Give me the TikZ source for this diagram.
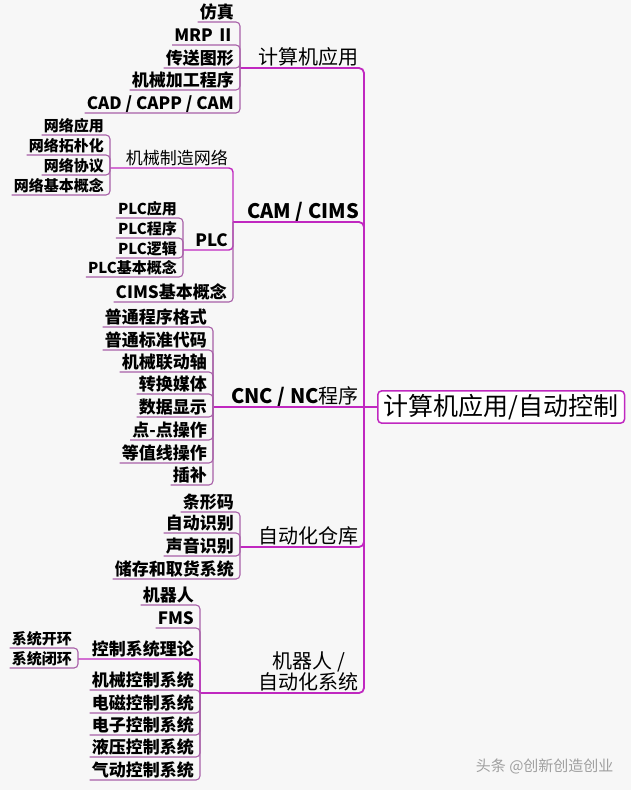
\documentclass[tikz,border=0pt]{standalone}
\usepackage{fontspec}
\setmainfont{Noto Sans CJK SC}
\definecolor{trunkline}{RGB}{192,40,192}
\definecolor{twigline}{RGB}{168,96,168}
\definecolor{paper}{RGB}{247,247,247}

\begin{document}
\begin{tikzpicture}[x=1pt, y=-1pt,
  topic/.style={anchor=south east, inner xsep=1pt, inner ysep=3pt, text depth=0pt,
    font=\fontsize{20}{21}\selectfont},
  leaf/.style={anchor=south east, inner xsep=2pt, inner ysep=3pt, text depth=0pt,
    font=\fontsize{17}{19}\selectfont\bfseries},
  smallleaf/.style={leaf, font=\fontsize{15}{17}\selectfont\bfseries},
  trunk/.style={draw=trunkline, line width=1.8pt, rounded corners=5pt},
  branch/.style={draw=trunkline, line width=1.4pt, rounded corners=4pt},
  twig/.style={draw=twigline, line width=1.1pt, rounded corners=4pt}]

  % Page
  \fill[paper] (0,0) rectangle (631,790);
  \useasboundingbox (0,0) rectangle (631,790);

  % Central topic
  \node[draw=trunkline, line width=1.5pt, rounded corners=4pt, fill=white, anchor=west,
    inner xsep=6pt, minimum height=30pt, font=\fontsize{25}{27}\selectfont]
    (root) at (377,407) {计算机应用/自动控制};
  \coordinate (hub) at (364,407);
  \draw[trunk] (root.west) -- (hub);

  % Computer applications
  \coordinate (jApp) at (240,68);
  \node[topic] (app) at (360,68) {计算机应用};
  \draw[trunk] (hub) |- (jApp);
  \node[leaf] (sim) at (236,22) {仿真};
  \node[leaf] (mrp) at (236,45) {MRP Ⅱ};
  \node[leaf] (transfer) at (236,68) {传送图形};
  \node[leaf] (machining) at (236,90) {机械加工程序};
  \node[leaf] (cad) at (236,113) {CAD / CAPP / CAM};
  \foreach \n in {sim, mrp, transfer, machining, cad}
    \draw[twig] (jApp) |- (\n.south west);

  % CAM / CIMS
  \coordinate (jCam) at (233,222);
  \node[topic, font=\fontsize{20}{21}\selectfont\bfseries] (cam) at (360,222) {CAM / CIMS};
  \draw[trunk] (hub) |- (jCam);

  % Manufacturing network
  \coordinate (jNet) at (110,168);
  \node[topic, font=\fontsize{17}{19}\selectfont] (net) at (229,168) {机械制造网络};
  \draw[branch] (jCam) |- (jNet);
  \node[smallleaf] (netuse) at (106,135) {网络应用};
  \node[smallleaf] (nettopo) at (106,155) {网络拓朴化};
  \node[smallleaf] (netproto) at (106,175) {网络协议};
  \node[smallleaf] (netbase) at (106,195) {网络基本概念};
  \foreach \n in {netuse, nettopo, netproto, netbase}
    \draw[twig] (jNet) |- (\n.south west);

  % PLC
  \coordinate (jPlc) at (183,250);
  \node[topic, font=\fontsize{17}{19}\selectfont\bfseries] (plc) at (229,250) {PLC};
  \draw[branch] (jCam) |- (jPlc);
  \node[smallleaf] (plcuse) at (179,218) {PLC应用};
  \node[smallleaf] (plcprog) at (179,238) {PLC程序};
  \node[smallleaf] (plclogic) at (179,258) {PLC逻辑};
  \node[smallleaf] (plcbase) at (179,277) {PLC基本概念};
  \foreach \n in {plcuse, plcprog, plclogic, plcbase}
    \draw[twig] (jPlc) |- (\n.south west);

  \node[leaf] (cimsbase) at (229,302) {CIMS基本概念};
  \draw[twig] (jCam) |- (cimsbase.south west);

  % CNC / NC programs
  \coordinate (jCnc) at (213,407);
  \node[topic] (cnc) at (360,407) {{\bfseries CNC / NC}程序};
  \draw[trunk] (hub) -- (jCnc);
  \node[leaf] (format) at (209,327) {普通程序格式};
  \node[leaf] (code) at (209,350) {普通标准代码};
  \node[leaf] (axis) at (209,372) {机械联动轴};
  \node[leaf] (media) at (209,394) {转换媒体};
  \node[leaf] (display) at (209,417) {数据显示};
  \node[leaf] (ptp) at (209,440) {点-点操作};
  \node[leaf] (contour) at (209,463) {等值线操作};
  \node[leaf] (interp) at (209,485) {插补};
  \foreach \n in {format, code, axis, media, display, ptp, contour, interp}
    \draw[twig] (jCnc) |- (\n.south west);

  % Automated warehouse
  \coordinate (jStore) at (240,547);
  \node[topic] (store) at (360,547) {自动化仓库};
  \draw[trunk] (hub) |- (jStore);
  \node[leaf] (barcode) at (236,512) {条形码};
  \node[leaf] (autoid) at (236,533) {自动识别};
  \node[leaf] (voiceid) at (236,556) {声音识别};
  \node[leaf] (asrs) at (236,579) {储存和取货系统};
  \foreach \n in {barcode, autoid, voiceid, asrs}
    \draw[twig] (jStore) |- (\n.south west);

  % Robots / automation systems
  \coordinate (jRobot) at (200,693);
  \node[topic, align=center] (robot) at (360,693) {机器人 /\\自动化系统};
  \draw[trunk] (hub) |- (jRobot);
  \node[leaf] (bot) at (196,605) {机器人};
  \node[leaf] (fms) at (196,628) {FMS};
  \node[leaf] (mech) at (196,690) {机械控制系统};
  \node[leaf] (emag) at (196,713) {电磁控制系统};
  \node[leaf] (elec) at (196,735) {电子控制系统};
  \node[leaf] (hydr) at (196,757) {液压控制系统};
  \node[leaf] (pneu) at (196,780) {气动控制系统};
  \foreach \n in {bot, fms, mech, emag, elec, hydr, pneu}
    \draw[twig] (jRobot) |- (\n.south west);

  % Control theory
  \coordinate (jCtrl) at (78,659);
  \node[leaf] (ctrl) at (196,659) {控制系统理论};
  \draw[branch] (jRobot) |- (jCtrl);
  \node[smallleaf] (openloop) at (74,648) {系统开环};
  \node[smallleaf] (closedloop) at (74,668) {系统闭环};
  \foreach \n in {openloop, closedloop}
    \draw[twig] (jCtrl) |- (\n.south west);

  % Watermark
  \node[anchor=east, text=gray!75, font=\fontsize{15}{17}\selectfont]
    (mark) at (617,766) {头条 @创新创造创业};

\end{tikzpicture}
\end{document}
